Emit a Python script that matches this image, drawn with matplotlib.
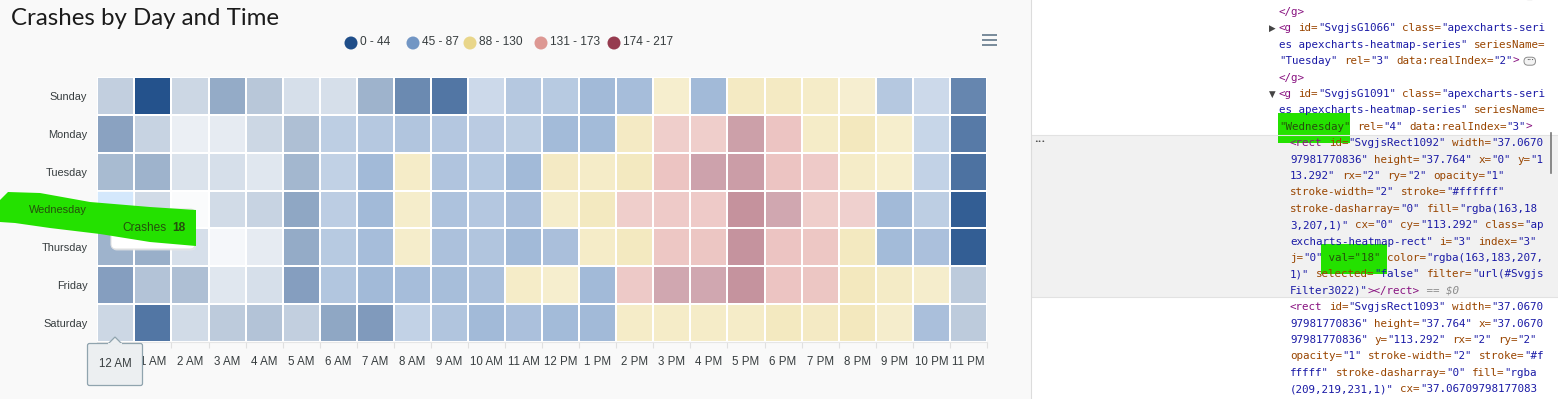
import numpy as np
import matplotlib.pyplot as plt
from matplotlib.colors import ListedColormap, Normalize, to_rgb
from matplotlib.patches import Rectangle, Circle, Polygon, FancyBboxPatch

# ---- data -------------------------------------------------------------
days = ['Sunday', 'Monday', 'Tuesday', 'Wednesday', 'Thursday', 'Friday', 'Saturday']
hours = ['12 AM', '1 AM', '2 AM', '3 AM', '4 AM', '5 AM', '6 AM', '7 AM', '8 AM',
         '9 AM', '10 AM', '11 AM', '12 PM', '1 PM', '2 PM', '3 PM', '4 PM', '5 PM',
         '6 PM', '7 PM', '8 PM', '9 PM', '10 PM', '11 PM']

sunday    = [12, 43, 10, 21, 14, 8, 8, 19, 29, 34, 48, 69, 67, 87, 83, 91, 87, 112, 112, 102, 88, 69, 48, 30]
monday    = [23, 11, 4, 5, 10, 16, 62, 69, 73, 70, 65, 62, 86, 86, 110, 145, 145, 190, 173, 102, 121, 93, 52, 33]
tuesday   = [17, 19, 7, 8, 6, 18, 58, 87, 102, 74, 68, 87, 110, 102, 117, 173, 185, 195, 173, 156, 102, 93, 57, 35]
wednesday = [18, 9, 1, 9, 11, 22, 63, 87, 97, 77, 70, 80, 97, 117, 145, 156, 156, 217, 176, 145, 139, 87, 62, 40]
thursday  = [19, 20, 8, 2, 5, 21, 67, 83, 97, 78, 73, 87, 80, 102, 117, 165, 168, 216, 173, 165, 117, 86, 79, 40]
friday    = [24, 15, 16, 6, 8, 24, 72, 87, 83, 82, 78, 102, 91, 87, 159, 176, 176, 215, 173, 168, 121, 106, 95, 13]
saturday  = [10, 34, 9, 13, 15, 12, 22, 25, 57, 73, 87, 79, 86, 87, 102, 102, 102, 102, 117, 110, 121, 95, 80, 13]

range_from = [0, 45, 88, 131, 174]
range_to = [44, 87, 130, 173, 217]
range_colors = ['#1f4e89', '#7296c4', '#e9d68a', '#dd9893', '#963b4f']
range_labels = ['%d - %d' % (a, b) for a, b in zip(range_from, range_to)]

hover_day, hover_hour = 3, 0     # Wednesday, 12 AM
series_name = 'Crashes'

# devtools panel text, wrapped as on screen
dom_lines = [
    '</g>',
    '<g id="SvgjsG1066" class="apexcharts-seri',
    'es apexcharts-heatmap-series" seriesName=',
    '"Tuesday" rel="3" data:realIndex="2">',
    '</g>',
    '<g id="SvgjsG1091" class="apexcharts-seri',
    'es apexcharts-heatmap-series" seriesName=',
    '"Wednesday" rel="4" data:realIndex="3">',
    '<rect id="SvgjsRect1092" width="37.0670',
    '97981770836" height="37.764" x="0" y="1',
    '13.292" rx="2" ry="2" opacity="1"',
    'stroke-width="2" stroke="#ffffff"',
    'stroke-dasharray="0" fill="rgba(163,18',
    '3,207,1)" cx="0" cy="113.292" class="ap',
    'excharts-heatmap-rect" i="3" index="3"',
    'j="0" val="18" color="rgba(163,183,207,',
    '1)" selected="false" filter="url(#Svgjs',
    'Filter3022)"></rect>',
    '<rect id="SvgjsRect1093" width="37.0670',
    '97981770836" height="37.764" x="37.0670',
    '97981770836" y="113.292" rx="2" ry="2"',
    'opacity="1" stroke-width="2" stroke="#f',
    'fffff" stroke-dasharray="0" fill="rgba',
    '(209,219,231,1)" cx="37.06709798177083',
]

crashes = np.array([sunday, monday, tuesday, wednesday, thursday, friday, saturday])

W, H = 1558, 399
fig = plt.figure(figsize=(W / 100, H / 100), dpi=100)
fig.patch.set_facecolor('white')

sans = 'Liberation Sans'
mono = 'DejaVu Sans Mono'
fg = '#373d3f'
green = '#24e100'
ink_on_green = '#24500c'


# ---- background / page axes (pixel coords) ----------------------------
bg = fig.add_axes([0, 0, 1, 1], zorder=0)
bg.set_xlim(0, W)
bg.set_ylim(H, 0)
bg.axis('off')

bg.add_patch(Rectangle((0, 0), 1031, H, fc='#f9f9f9', ec='none'))
bg.plot([1031.5, 1031.5], [0, H], color='#dcdcdc', lw=0.8)

bg.text(11, 25, 'Crashes by Day and Time', family='Lato', fontsize=17.3,
        color='#1b1b1b', va='baseline', ha='left')

# legend
legend_x = [351, 413, 470, 541, 614]
for lx, col, lab in zip(legend_x, range_colors, range_labels):
    bg.add_patch(Circle((lx, 43), 6.5, fc=col, ec='none'))
    bg.text(lx + 9, 42, lab, family=sans, fontsize=8.6, color=fg, va='center', ha='left')

# menu icon
for yy in [35, 40, 45]:
    bg.plot([982, 997], [yy, yy], color='#6e8292', lw=1.3, solid_capstyle='butt')

# devtools selected row band
bg.add_patch(Rectangle((1032, 135), W - 1032, 162, fc='#f1f1f1', ec='none'))
bg.plot([1032, W], [135, 135], color='#e2e2e2', lw=0.8)
bg.plot([1032, W], [297, 297], color='#e2e2e2', lw=0.8)
bg.text(1034, 142, '•••', family='DejaVu Sans', fontsize=4.5, color='#444444', va='center')
bg.plot([1551.5, 1551.5], [133, 173], color='#777777', lw=1.2)

tok_col = {'tag': '#881280', 'attr': '#994500', 'val': '#1a1aa6', 'plain': '#222222'}
cw = 6.5
dom_y0, dom_dy = 12, 16.4
hilite = {7: (0, 11), 15: (5, 15)}
suffix = {17: ' == $0'}
state = {'q': False, 'tag': False}

for k, line in enumerate(dom_lines):
    x0 = 1279 if k <= 7 else 1290
    y = dom_y0 + k * dom_dy
    kinds = []
    for ch in line:
        if state['q']:
            kinds.append('val')
            if ch == '"':
                state['q'] = False
        elif ch == '"':
            state['q'] = True
            kinds.append('val')
        elif ch == '<':
            state['tag'] = True
            kinds.append('tag')
        elif ch == '>':
            state['tag'] = False
            kinds.append('tag')
        elif state['tag']:
            if ch == ' ':
                state['tag'] = False
                kinds.append('plain')
            else:
                kinds.append('tag')
        elif ch == ' ':
            kinds.append('plain')
        else:
            kinds.append('attr')
    cols = [tok_col[kd] for kd in kinds]
    if k in hilite:
        a, b = hilite[k]
        bg.add_patch(Rectangle((x0 + a * cw - 1, y - 14), (b - a) * cw + 1, 30,
                               fc=green, ec='none', zorder=1))
        for i in range(a, min(b, len(cols))):
            cols[i] = ink_on_green
    # one text per run of equal colour
    start = 0
    for i in range(1, len(line) + 1):
        if i == len(line) or cols[i] != cols[start]:
            bg.text(x0 + start * cw, y, line[start:i], family=mono, fontsize=7.8,
                    color=cols[start], va='center', ha='left', zorder=2)
            start = i
    if k in suffix:
        bg.text(x0 + len(line) * cw, y, suffix[k], family=mono, fontsize=7.8,
                color='#8a8a8a', style='italic', va='center', ha='left', zorder=2)

# expand arrows and "..." pills
bg.text(1269, dom_y0 + 1 * dom_dy, '▶', family='DejaVu Sans', fontsize=6.2, color='#444444', va='center')
bg.text(1268.5, dom_y0 + 5 * dom_dy, '▼', family='DejaVu Sans', fontsize=6.2, color='#444444', va='center')
for yy in (dom_y0 - dom_dy, dom_y0 + 3 * dom_dy):
    bg.add_patch(FancyBboxPatch((1524, yy - 4), 11.5, 8, boxstyle='round,pad=0,rounding_size=4',
                                fc='#f3f3f3', ec='#8c8c8c', lw=0.7))
bg.text(1529.8, dom_y0 + 3 * dom_dy, '•••', family='DejaVu Sans', fontsize=3.2,
        color='#444444', va='center', ha='center')


# ---- heatmap ----------------------------------------------------------
def shade(v):
    for lo, hi, c in zip(range_from, range_to, range_colors):
        if lo <= v <= hi:
            rgb = np.array(to_rgb(c))
            f = 1 - v / (lo + hi)
            return rgb + (1 - rgb) * f
    return np.ones(3)


levels = np.arange(range_from[0], range_to[-1] + 1)
cmap = ListedColormap([shade(v) for v in levels])
norm = Normalize(levels[0] - 0.5, levels[-1] + 0.5)

left, top, cell_w, cell_h = 97.3, 77.3, 37.07, 37.76
ax = fig.add_axes([left / W, 1 - (top + 7 * cell_h) / H, 24 * cell_w / W, 7 * cell_h / H], zorder=1)
ax.patch.set_visible(False)
ax.pcolormesh(np.arange(25), np.arange(8), crashes, cmap=cmap, norm=norm,
              edgecolors='white', linewidth=1.2, zorder=1)
ax.add_patch(Rectangle((hover_hour, hover_day), 1, 1, fc='#d4e8fc', ec='white', lw=1.2, zorder=1))
ax.set_xlim(0, 24)
ax.set_ylim(7, 0)

ax.set_xticks(np.arange(24) + 0.5, hours)
ax.set_yticks(np.arange(7) + 0.5, days)
ax.set_xticks(np.arange(25), minor=True)
ax.tick_params(axis='x', which='major', length=0, pad=10, labelsize=8.3, labelcolor=fg)
ax.tick_params(axis='x', which='minor', length=4.3, width=0.8, color='#e0e0e0')
ax.tick_params(axis='y', which='both', length=0, pad=7.2, labelsize=7.9, labelcolor=fg)
for lab in ax.get_xticklabels() + ax.get_yticklabels():
    lab.set_family(sans)
ax.get_yticklabels()[hover_day].set_color(ink_on_green)
for s in ['top', 'right', 'left']:
    ax.spines[s].set_visible(False)
ax.spines['bottom'].set_color('#e6e6e6')
ax.spines['bottom'].set_linewidth(0.8)

# data tooltip box and green marker stroke: above the cells, below the tick labels
ax.add_patch(FancyBboxPatch((112, 210.5), 84, 40, boxstyle='round,pad=0,rounding_size=5',
                            fc='#e8e8e8', ec='none', alpha=0.7, transform=bg.transData,
                            clip_on=False, zorder=1.2))
ax.add_patch(FancyBboxPatch((111, 209), 84, 40, boxstyle='round,pad=0,rounding_size=5',
                            fc='white', ec='#e3e3e3', lw=0.8, transform=bg.transData,
                            clip_on=False, zorder=1.25))
ax.add_patch(Polygon([(0, 200), (8, 192), (40, 193), (90, 202), (150, 207), (196, 210),
                      (196, 246), (150, 242), (100, 234), (50, 228), (15, 223), (0, 222)],
                     closed=True, fc=green, ec='none', transform=bg.transData,
                     clip_on=False, zorder=1.3))


# ---- tooltip texts and x-axis tooltip (pixel coords) ------------------
top_ax = fig.add_axes([0, 0, 1, 1], zorder=2)
top_ax.set_xlim(0, W)
top_ax.set_ylim(H, 0)
top_ax.axis('off')

top_ax.add_patch(FancyBboxPatch((87.5, 343.5), 55, 42, boxstyle='round,pad=0,rounding_size=2',
                                fc='#eceff1', ec='#90a4ae', lw=0.9))
top_ax.add_patch(Polygon([(108, 344), (115, 337), (122, 344)], closed=False,
                         fc='#eceff1', ec='#90a4ae', lw=0.9))
top_ax.plot([108.6, 121.4], [344, 344], color='#eceff1', lw=1.4)
top_ax.text(115.5, 364, hours[hover_hour], family=sans, fontsize=8.3, color=fg,
            ha='center', va='center')

top_ax.text(122, 228, series_name, family=sans, fontsize=8.6, color=ink_on_green,
            ha='left', va='center')
top_ax.text(172, 228, str(crashes[hover_day, hover_hour]), family=sans, fontsize=8.6,
            color=ink_on_green, weight='bold', ha='left', va='center')

plt.savefig('out.png', dpi=100)
